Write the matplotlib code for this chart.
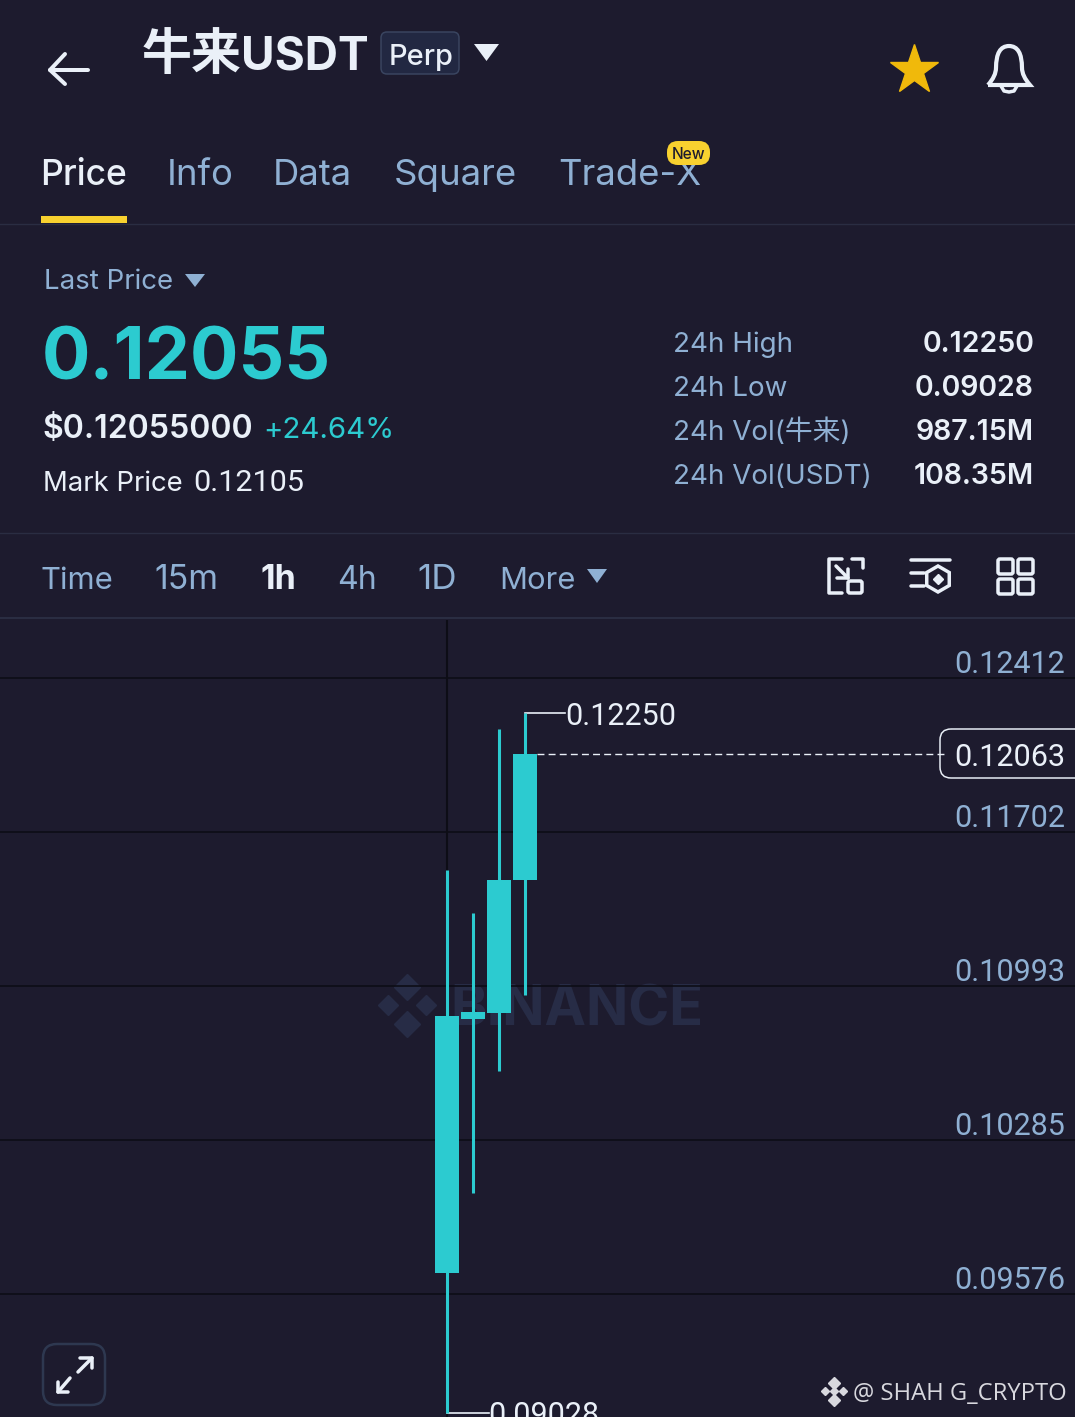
import matplotlib
matplotlib.use('Agg')
import matplotlib.pyplot as plt
from matplotlib.patches import FancyBboxPatch, Rectangle, PathPatch, RegularPolygon, Polygon
from matplotlib.path import Path

plt.rcParams['font.family'] = ['Inter', 'Noto Sans CJK SC', 'DejaVu Sans']

# data
candle_x = [0, 1, 2, 3]
opens = [0.09673, 0.10842, 0.10870, 0.11482]
closes = [0.10856, 0.10874, 0.11482, 0.12063]
highs = [0.11528, 0.11330, 0.12177, 0.12250]
lows = [0.09028, 0.10041, 0.10603, 0.10953]
grid_prices = [0.12412, 0.11702, 0.10993, 0.10285, 0.09576]
last_price = 0.12063
tabs = ['Price', 'Info', 'Data', 'Square', 'Trade-X']
tab_x = [40, 167, 273, 394, 558]
tab_size = [35.5, 36.5, 36.5, 36.5, 36.5]
periods = ['Time', '15m', '1h', '4h', '1D', 'More']
period_x = [40, 154, 261, 337, 417, 499]
period_size = [31, 34, 34, 32, 35, 31]
stat_names = ['24h High', '24h Low', '24h Vol(牛来)', '24h Vol(USDT)']
stat_values = ['0.12250', '0.09028', '987.15M', '108.35M']
stat_base = [352, 396, 440, 484]

BG = '#1d1b2e'
WHITE = '#eaf0f8'
BLUE = '#8fb0d3'
TEAL = '#2ccbd0'
LINE = '#2a2d42'
NUM_FONT = ['Roboto', 'DejaVu Sans']

fig = plt.figure(figsize=(10.75, 14.17), dpi=100, facecolor=BG)
ui = fig.add_axes([0, 0, 1, 1], zorder=0)
ui.set_xlim(0, 1075)
ui.set_ylim(1417, 0)
ui.axis('off')


def txt(x, y, s, px, color=WHITE, weight='normal', ha='left', **kw):
    ui.text(x, y, s, fontsize=px * 0.72, color=color, fontweight=weight, ha=ha, va='baseline', **kw)


def stroke(xs, ys, lw=3.5, color=WHITE):
    ui.plot(xs, ys, color=color, lw=lw * 0.72, solid_capstyle='round', solid_joinstyle='round')


def rbox(x, y, w, h, r, fc='none', ec=WHITE, lw=3.5, zorder=2):
    ui.add_patch(FancyBboxPatch((x + r, y + r), w - 2 * r, h - 2 * r, boxstyle='round,pad=%f,rounding_size=%f' % (r, r),
                                fc=fc, ec=ec, lw=lw * 0.72, zorder=zorder))


# header
stroke([50, 88], [70, 70], 4)
stroke([65, 50, 65], [54, 70, 84], 4)
txt(142, 70, '牛来', 50, weight='bold')
txt(241, 70, 'USDT', 46, weight='bold')
rbox(381, 32, 78, 42, 6, fc='#222842', ec='#3a4560', lw=1.5)
txt(389, 65, 'Perp', 29, weight='medium')
ui.add_patch(Polygon([[474, 44], [499, 44], [486.5, 61]], fc=WHITE, ec='none'))
ui.plot([914], [70], marker='*', ms=37, color='#f0b90b', mec='#f0b90b')
bell = Path([(988, 85), (996, 76), (996, 68), (996, 46), (1009, 46), (1022, 46), (1022, 68), (1022, 76), (1030, 85), (988, 85)],
            [Path.MOVETO, Path.CURVE3, Path.CURVE3, Path.CURVE3, Path.CURVE3, Path.CURVE3, Path.CURVE3, Path.CURVE3, Path.CURVE3, Path.LINETO])
ui.add_patch(PathPatch(bell, fc='none', ec=WHITE, lw=3))
stroke([1001, 1004, 1009, 1014, 1017], [86, 91, 92, 91, 86], 3.5)

# tabs
for name, x, size in zip(tabs, tab_x, tab_size):
    txt(x, 185, name, size, color=WHITE if name == 'Price' else BLUE, weight='medium' if name == 'Price' else 'normal')
ui.add_patch(Rectangle((41, 216), 86, 7, fc='#f8d12f', ec='none'))
ui.plot([0, 1075], [224, 224], color=LINE, lw=1)
# badge sits over the end of Trade-X
rbox(667, 141, 43, 24, 11, fc='#f8d12f', ec='none', lw=0, zorder=5)
txt(688.5, 159, 'New', 15.5, color='#1d1b2e', weight='medium', ha='center', zorder=6)

# price block
txt(44, 289, 'Last Price', 27.7, color=BLUE)
ui.add_patch(Polygon([[185, 274], [205, 274], [195, 287]], fc=BLUE, ec='none'))
txt(42, 379, '0.12055', 72, color=TEAL, weight='bold')
txt(42, 438, '$0.12055000', 32, weight='semibold')
txt(263, 438, '+24.64%', 29.5, color=TEAL)
txt(43, 491, 'Mark Price', 27.5)
txt(193, 491, '0.12105', 30.5, family=NUM_FONT)
for name, value, y in zip(stat_names, stat_values, stat_base):
    txt(673, y, name, 27.8, color=BLUE)
    txt(1034, y, value, 28.5, weight='semibold', ha='right')
ui.plot([0, 1075], [533, 533], color=LINE, lw=1)

# period row
for name, x, size in zip(periods, period_x, period_size):
    txt(x, 589, name, size, color=WHITE if name == '1h' else BLUE, weight='bold' if name == '1h' else 'normal')
ui.add_patch(Polygon([[587, 569], [607, 569], [597, 583]], fc=BLUE, ec='none'))
ui.plot([0, 1075], [618, 618], color=LINE, lw=1.5)

# toolbar icons
stroke([842, 829, 829, 842], [559, 559, 593, 593])
stroke([852, 863, 863], [559, 559, 568])
rbox(848, 581, 14, 12, 2)
stroke([836, 848], [566, 578])
stroke([848, 848, 837], [569, 578, 578])
stroke([911, 950], [560, 560])
stroke([911, 924], [573, 573])
stroke([911, 924], [586, 586])
ui.add_patch(RegularPolygon((938, 579), 6, radius=13, fc='none', ec=WHITE, lw=2.5))
ui.plot([938], [579], marker='D', ms=5, color=WHITE)
for bx in [998, 1018]:
    for by in [559, 579]:
        rbox(bx, by, 15, 15, 2)

# watermark
ui.text(450, 1025, 'BINANCE', fontsize=40, fontweight='bold', color='#272c46', va='baseline')
for dx, dy, s in [(407, 987, 13), (407, 1024, 13), (388, 1005, 10), (426, 1005, 10)]:
    ui.plot([dx], [dy], marker='D', ms=s, color='#272c46')

# candle chart, same pixel frame as the picture
ax = fig.add_axes([0, 0, 1, 797 / 1417], zorder=1)
ax.patch.set_visible(False)
ax.set_xlim(-447 / 26, (1075 - 447) / 26)
ax.set_ylim(0.09010, 0.12679)
for s in ax.spines.values():
    s.set_visible(False)
ax.set_xticks([])
ax.yaxis.tick_right()
ax.set_yticks(grid_prices)
ax.set_yticklabels([])
ax.tick_params(length=0)
ax.grid(axis='y', color='#0d0d16', lw=1.2)
ax.axvline(0, color='#0d0d16', lw=1.5, zorder=1)
for p in grid_prices:
    ax.annotate('%.5f' % p, (1, p), xycoords=('axes fraction', 'data'), xytext=(-10, -1), textcoords='offset pixels',
                ha='right', va='bottom', fontsize=22, color=BLUE, family=NUM_FONT)

bottoms = [min(o, c) for o, c in zip(opens, closes)]
heights = [abs(c - o) for o, c in zip(opens, closes)]
ax.vlines(candle_x, lows, highs, color=TEAL, lw=2.2, zorder=3)
ax.bar(candle_x, heights, 0.9, bottoms, color=TEAL, zorder=4)

# last price line and label
ax.hlines(last_price, 3.45, 19.1, color=WHITE, lw=1, linestyles=(0, (5, 3)), zorder=2)
ax.annotate('%.5f' % last_price, (1, last_price), xycoords=('axes fraction', 'data'), xytext=(-10, -4), textcoords='offset pixels',
            ha='right', va='center', fontsize=22, color=WHITE, family=NUM_FONT)
rbox(940, 729, 150, 49, 11, fc='none', ec=WHITE, lw=1.5)

# high and low tags
ax.plot([3, 4.55], [highs[3], highs[3]], color=WHITE, lw=1.2, zorder=2)
ax.annotate('%.5f' % highs[3], (4.55, highs[3]), xytext=(0, -3), textcoords='offset pixels', color=WHITE, fontsize=22, va='center',
            family=NUM_FONT)
ax.plot([0, 1.6], [lows[0], lows[0]], color=WHITE, lw=1.2, zorder=2)
ax.annotate('%.5f' % lows[0], (1.6, lows[0]), xytext=(0, -2), textcoords='offset pixels', color=WHITE, fontsize=22, va='center',
            annotation_clip=False, family=NUM_FONT)

# expand button
rbox(43, 1344, 62, 61, 14, ec='#2e3850', lw=2.5)
stroke([78, 92], [1372, 1358], 3.5)
stroke([80, 92, 92], [1358, 1358, 1368], 3.5)
stroke([58, 70], [1392, 1378], 3.5)
stroke([58, 58, 68], [1382, 1392, 1392], 3.5)

# source mark
for dx, dy, s in [(834, 1383, 6), (834, 1400, 6), (825, 1391, 4), (843, 1391, 4), (834, 1391, 4)]:
    ui.plot([dx], [dy], marker='D', ms=s, color='#d8d8de')
ui.text(853, 1400, '@ SHAH G_CRYPTO', fontsize=17.1, color='#d8d8de', family=['Open Sans', 'DejaVu Sans'], va='baseline')

fig.savefig('out.png', dpi=100, facecolor=BG)
